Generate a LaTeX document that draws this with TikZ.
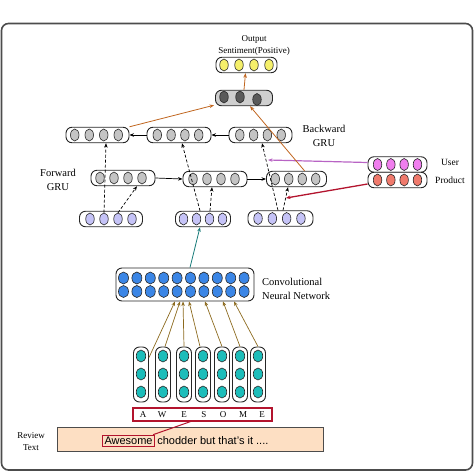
\documentclass[tikz,border=0pt]{standalone}
\usepackage{fontspec}
\setmainfont{Liberation Serif}
\newfontfamily\arialfont{Liberation Sans}
\usetikzlibrary{calc,arrows.meta,shapes.geometric}
\definecolor{cyel}{HTML}{F5F06A}
\definecolor{cdark}{HTML}{5A5A5A}
\definecolor{caggfill}{HTML}{CFCFCF}
\definecolor{cgru}{HTML}{C4C4C4}
\definecolor{clav}{HTML}{C5C3F7}
\definecolor{cuser}{HTML}{F07EEE}
\definecolor{cprod}{HTML}{F07A6C}
\definecolor{ccnn}{HTML}{3B86E6}
\definecolor{cteal}{HTML}{1CBDBA}
\definecolor{corange}{HTML}{C0651E}
\definecolor{cpurple}{HTML}{B864C4}
\definecolor{ccrim}{HTML}{B3142E}
\definecolor{ctealarr}{HTML}{167A78}
\definecolor{colive}{HTML}{8C6A1E}
\definecolor{cpeach}{HTML}{FDDFC3}
\tikzset{
  pillbox/.style={draw=black!85, line width=0.9pt, rounded corners=6pt, minimum height=15.5pt, inner sep=0pt, fill=white},
  dot/.style={ellipse, draw=black!85, line width=0.6pt, minimum width=8.5pt, minimum height=12pt, inner sep=0pt},
  bigdot/.style={dot, minimum width=10pt, minimum height=12pt},
  arr/.style={-{Stealth[length=4.5pt,width=3.5pt]}},
  blk/.style={arr, line width=0.7pt, black},
  dsh/.style={arr, line width=0.7pt, black, dash pattern=on 3pt off 2pt},
  org/.style={arr, line width=0.8pt, corange},
  olv/.style={arr, line width=0.7pt, colive},
  lbl/.style={inner sep=0pt, align=center, font=\fontsize{10.5}{14}\selectfont},
  smlbl/.style={inner sep=0pt, align=center, font=\fontsize{9}{12}\selectfont},
  letter/.style={inner sep=0pt, font=\fontsize{9}{9}\selectfont}
}
\newcommand\pillrow[8]{%
  \node[pillbox, minimum width=#4] (#1) at (#2,#3) {};
  \foreach \k in {1,...,#5}{
    \pgfmathsetmacro\dx{(\k-(#5+1)/2)*#6}
    \node[dot, fill=#7] (#1-\k) at ($(#1)+(\dx+#8,0)$) {};
  }
}
\begin{document}
\begin{tikzpicture}[x=1pt,y=-1pt]
\useasboundingbox (0,0) rectangle (474,472);
% frame
\draw[line width=1.6pt, black!70, rounded corners=7pt] (1.5,23.5) rectangle (472.5,470);

% output and aggregation
\node[smlbl] (tout) at (254,39.5) {Output};
\node[smlbl] (tsent) at (254,51.5) {Sentiment(Positive)};
\pillrow{out}{246.5}{65}{61pt}{4}{15}{cyel}{0}
\node[pillbox, minimum width=57pt, fill=caggfill] (agg) at (244,98) {};
\node[dot, fill=cdark] (agg-1) at (224,97) {};
\node[dot, fill=cdark] (agg-2) at (240,97) {};
\node[dot, fill=cdark] (agg-3) at (257,99.5) {};

% backward GRU
\pillrow{B1}{97.5}{135}{63pt}{4}{14.5}{cgru}{-1}
\pillrow{B2}{179}{135}{64pt}{4}{13.8}{cgru}{-1}
\pillrow{B3}{260.5}{135}{63pt}{4}{13.8}{cgru}{0}
% forward GRU
\pillrow{F1}{123}{178}{64pt}{4}{14}{cgru}{-2}
\pillrow{F2}{215}{179}{64pt}{4}{14}{cgru}{-1}
\pillrow{F3}{296.5}{179}{60pt}{4}{13.5}{cgru}{-1}
% embeddings
\pillrow{E1}{111}{219}{63pt}{4}{14}{clav}{0}
\pillrow{E2}{203}{219}{55pt}{4}{13}{clav}{0}
\pillrow{E3}{280.5}{218.5}{65pt}{4}{14.3}{clav}{-1}
% user / product
\pillrow{U}{397.5}{164.5}{59pt}{4}{13.3}{cuser}{0}
\pillrow{P}{397.5}{180}{59pt}{4}{13.3}{cprod}{0}

\node[lbl] (tback) at (324,136) {Backward\\GRU};
\node[lbl] (tfwd) at (58,180) {Forward\\GRU};
\node[smlbl, font=\fontsize{9.5}{12}\selectfont] (tuser) at (450,162) {User};
\node[smlbl, font=\fontsize{9.5}{12}\selectfont] (tprod) at (450,180.5) {Product};

% GRU connections
\draw[blk] (B3.west) -- (B2.east);
\draw[blk] (B2.west) -- (B1.east);
\draw[blk] (F1.east) -- (F2.west);
\draw[blk] (F2.east) -- (F3.west);

\draw[dsh] (E1-2.north) -- ($(B1.south)+(8.5,0)$);
\draw[dsh] (E1-3.north) -- ($(F1.south)+(14,0)$);
\draw[dsh] ($(E2.north)+(-3,0)$) -- ($(B2.south)+(3,0)$);
\draw[dsh] ($(E2.north)+(7,0)$) -- ($(F2.south)+(-3,0)$);
\draw[dsh] ($(E3.north)+(-2.5,0)$) -- ($(B3.south)+(1.5,0)$);
\draw[dsh] ($(E3.north)+(2.5,0)$) -- ($(F3.south)+(-8.5,0)$);

\coordinate (uin) at (268,160);
\coordinate (pin) at (286,198);
\draw[arr, line width=1.2pt, cpurple] ($(U.west)+(0,-2)$) -- (uin);
\draw[arr, line width=1.3pt, ccrim] ($(P.west)+(0,4)$) -- (pin);

% to aggregation
\draw[org] (B1.north east) -- ($(agg.south west)+(-1,-1)$);
\draw[org] ($(F3.north)+(8,0)$) -- ($(agg.south)+(6,0)$);
\draw[org] (agg.north) -- ($(out.south)+(-1,0)$);

% CNN
\node[pillbox, minimum width=138pt, minimum height=33pt] (cnn) at (185,284.5) {};
\foreach \c in {0,...,9}{
  \pgfmathsetmacro\cx{123.5+13.4*\c}
  \node[bigdot, fill=ccnn] (cnn-a\c) at (\cx,278) {};
  \node[bigdot, fill=ccnn] (cnn-b\c) at (\cx,291.5) {};
}
\node[lbl, align=left, anchor=west] (tcnn) at (262,288.5) {Convolutional\\Neural Network};
\draw[arr, line width=0.8pt, ctealarr] ($(cnn.north)+(5,0)$) -- ($(E2.south)+(-3,0)$);

% character columns
\foreach \i/\x in {1/141,2/163,3/184,4/203,5/222,6/240,7/258}{
  \node[pillbox, minimum width=15pt, minimum height=55pt] (c\i) at (\x,374.5) {};
  \node[bigdot, minimum width=9.5pt, fill=cteal] (c\i-1) at (\x,356) {};
  \node[bigdot, minimum width=9.5pt, fill=cteal] (c\i-2) at (\x,374) {};
  \node[bigdot, minimum width=9.5pt, fill=cteal] (c\i-3) at (\x,392) {};
}
\draw[olv] ($(c1.north east)+(0,11)$) -- ($(cnn.south)+(-10,0)$);
\draw[olv] ($(c2.north)+(2,0)$) -- ($(cnn.south)+(-5,0)$);
\draw[olv] (c3.north) -- ($(cnn.south)+(-2,0)$);
\draw[olv] ($(c4.north)+(-3,0)$) -- ($(cnn.south)+(4,0)$);
\draw[olv] (c5.north) -- ($(cnn.south)+(20,0)$);
\draw[olv] (c6.north) -- ($(cnn.south)+(38,0)$);
\draw[olv] (c7.north) -- ($(cnn.south)+(49,0)$);

% AWESOME box
\node[draw=ccrim, line width=1.2pt, minimum width=139pt, minimum height=13pt, inner sep=0pt] (awbox) at (202.5,414.5) {};
\foreach \i/\x/\t in {1/143/A,2/162/W,3/184/E,4/204/S,5/223/O,6/243/M,7/262/E}{
  \node[letter] (l\i) at (\x,415) {\t};
}

% review text
\node[draw=black!70, line width=0.9pt, fill=cpeach, minimum width=266pt, minimum height=24pt, inner sep=0pt] (rev) at (190,439) {};
\node[draw=ccrim, line width=1pt, inner sep=2pt, anchor=west, font=\arialfont\fontsize{11}{12}\selectfont] (aw) at (102,441) {Awesome};
\node[anchor=base west, inner sep=0pt, font=\arialfont\fontsize{11}{12}\selectfont] (rest) at ($(aw.base east)+(2,0)$) {chodder but that’s it ....};
\draw[ccrim, line width=1pt] ($(awbox.south)+(-12,0)$) -- ($(aw.north east)+(-2,0)$);
\node[smlbl] (trev) at (31,442) {Review\\Text};
\end{tikzpicture}
\end{document}
